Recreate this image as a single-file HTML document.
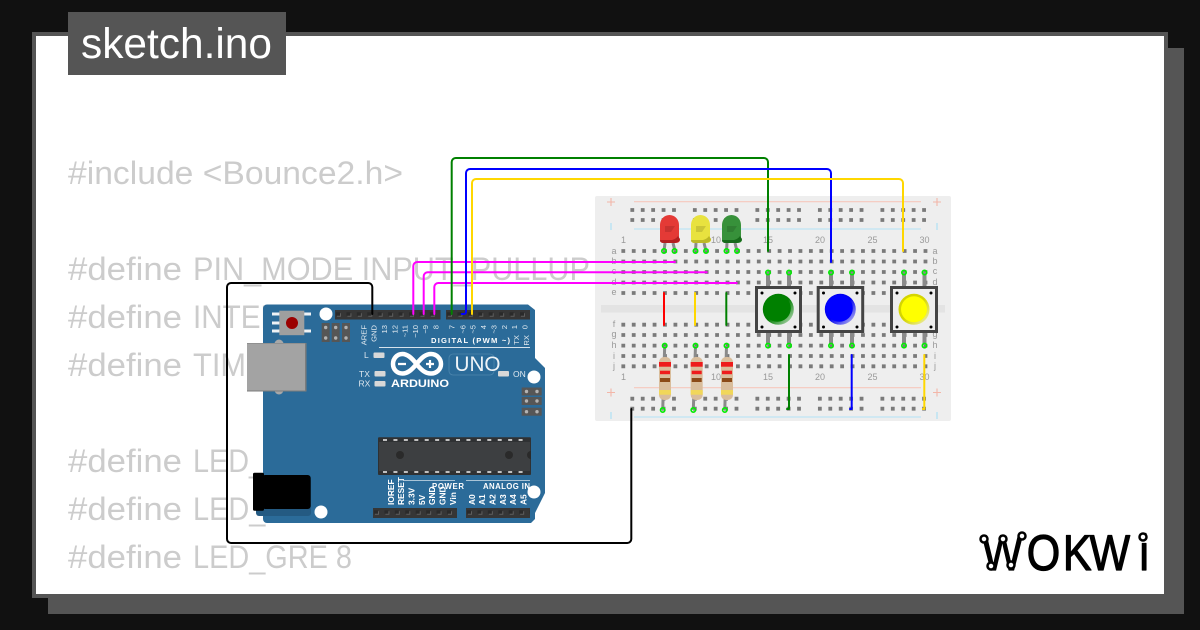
<!DOCTYPE html>
<html>
<head>
<meta charset="utf-8">
<style>
html,body{margin:0;padding:0;width:1200px;height:630px;overflow:hidden;background:#111}
svg{display:block}
text{font-family:"Liberation Sans",sans-serif}
.code{font-size:32px;fill:#ccc}
.h{stroke:#7a7a7a;stroke-width:3.8;stroke-dasharray:3.8 6.62}
.r{stroke:#7a7a7a;stroke-width:3.8;stroke-dasharray:3.8 6.62 3.8 6.62 3.8 6.62 3.8 6.62 3.8 17.04}
.num{font-size:9px;fill:#999;text-anchor:middle}
.let{font-size:9px;fill:#999;text-anchor:middle}
.t{font-size:7.6px;fill:#dfe8ef;text-anchor:end}
.b{font-size:8.4px;fill:#fff;font-weight:bold;text-anchor:start}
.w{fill:none;stroke-width:2;stroke-linecap:round;stroke-linejoin:round}
.leg{stroke:#8a8a8a;stroke-width:3}
.pin{fill:none;stroke:#00ee00;stroke-width:1.6}
</style>
</head>
<body>
<svg width="1200" height="630" viewBox="0 0 1200 630" xmlns="http://www.w3.org/2000/svg">
<rect width="1200" height="630" fill="#111"/>
<rect x="48" y="48" width="1136" height="566" fill="#555"/>
<rect x="32" y="32" width="1136" height="566" fill="#555"/>
<rect x="36" y="36" width="1128" height="558" fill="#fff"/>
<rect x="68" y="12" width="218" height="63" fill="#555"/>
<text x="81" y="58" font-size="43" fill="#fff" textLength="191" lengthAdjust="spacingAndGlyphs">sketch.ino</text>

<text class="code" x="68" y="184" textLength="335" lengthAdjust="spacingAndGlyphs">#include &lt;Bounce2.h&gt;</text>
<text class="code" x="68" y="280" textLength="114" lengthAdjust="spacingAndGlyphs">#define</text>
<text class="code" x="193" y="280" textLength="397" lengthAdjust="spacingAndGlyphs">PIN_MODE INPUT_PULLUP</text>
<text class="code" x="68" y="328" textLength="114" lengthAdjust="spacingAndGlyphs">#define</text>
<text class="code" x="193" y="328" textLength="294" lengthAdjust="spacingAndGlyphs">INTERVAL_MILLIS 25</text>
<text class="code" x="68" y="376" textLength="114" lengthAdjust="spacingAndGlyphs">#define</text>
<text class="code" x="193" y="376" textLength="198" lengthAdjust="spacingAndGlyphs">TIMEOUT 500</text>
<text class="code" x="68" y="472" textLength="114" lengthAdjust="spacingAndGlyphs">#define</text>
<text class="code" x="193" y="472" textLength="173" lengthAdjust="spacingAndGlyphs">LED_RED 10</text>
<text class="code" x="68" y="520" textLength="114" lengthAdjust="spacingAndGlyphs">#define</text>
<text class="code" x="193" y="520" textLength="150" lengthAdjust="spacingAndGlyphs">LED_YEL 9</text>
<text class="code" x="68" y="568" textLength="114" lengthAdjust="spacingAndGlyphs">#define</text>
<text class="code" x="193" y="568" textLength="159" lengthAdjust="spacingAndGlyphs">LED_GRE 8</text>

<!-- breadboard -->
<rect x="595" y="196" width="356" height="225" rx="2" fill="#eee"/>
<rect x="601" y="305" width="344" height="7.5" fill="#e3e3e3"/>
<g stroke-width="1.2">
<line x1="634" y1="201.7" x2="921" y2="201.7" stroke="#f6c8bd"/>
<line x1="634" y1="229" x2="921" y2="229" stroke="#bfe4f4"/>
<line x1="634" y1="387.7" x2="921" y2="387.7" stroke="#f6c8bd"/>
<line x1="634" y1="417" x2="921" y2="417" stroke="#bfe4f4"/>
</g>
<g stroke="#f3b6a8" stroke-width="1.1">
<path d="M607 202h8M611 198v8M933 202h8M937 198v8M607 392.500h8M611 388.500v8M933 392.500h8M937 388.500v8"/>
</g>
<g stroke="#bfe4f4" stroke-width="1.6">
<path d="M611 223v7M937 223v7M611 412v7M937 412v7"/>
</g>
<g>
<line class="r" x1="630.4" x2="926" y1="210" y2="210"/>
<line class="r" x1="630.4" x2="926" y1="220" y2="220"/>
<line class="r" x1="630.4" x2="926" y1="398.7" y2="398.7"/>
<line class="r" x1="630.4" x2="926" y1="408.7" y2="408.7"/>
<line class="h" x1="621.4" x2="927.5" y1="251" y2="251"/>
<line class="h" x1="621.4" x2="927.5" y1="261.500" y2="261.500"/>
<line class="h" x1="621.4" x2="927.5" y1="272" y2="272"/>
<line class="h" x1="621.4" x2="927.5" y1="282.500" y2="282.500"/>
<line class="h" x1="621.4" x2="927.5" y1="293" y2="293"/>
<line class="h" x1="621.4" x2="927.5" y1="324.700" y2="324.700"/>
<line class="h" x1="621.4" x2="927.5" y1="335" y2="335"/>
<line class="h" x1="621.4" x2="927.5" y1="345.600" y2="345.600"/>
<line class="h" x1="621.4" x2="927.5" y1="356" y2="356"/>
<line class="h" x1="621.4" x2="927.5" y1="366.300" y2="366.300"/>
</g>
<g>
<text class="num" x="623.500" y="243">1</text><text class="num" x="665" y="243">5</text><text class="num" x="716" y="243">10</text><text class="num" x="768" y="243">15</text><text class="num" x="820" y="243">20</text><text class="num" x="872.500" y="243">25</text><text class="num" x="924.500" y="243">30</text>
<text class="num" x="623.500" y="380">1</text><text class="num" x="665" y="380">5</text><text class="num" x="716" y="380">10</text><text class="num" x="768" y="380">15</text><text class="num" x="820" y="380">20</text><text class="num" x="872.500" y="380">25</text><text class="num" x="924.500" y="380">30</text>
<text class="let" x="614" y="254">a</text><text class="let" x="614" y="264">b</text><text class="let" x="614" y="274">c</text><text class="let" x="614" y="285">d</text><text class="let" x="614" y="295">e</text>
<text class="let" x="614" y="327">f</text><text class="let" x="614" y="337">g</text><text class="let" x="614" y="348">h</text><text class="let" x="614" y="359">i</text><text class="let" x="614" y="369">j</text>
<text class="let" x="935" y="254">a</text><text class="let" x="935" y="264">b</text><text class="let" x="935" y="274">c</text><text class="let" x="935" y="285">d</text><text class="let" x="935" y="295">e</text>
<text class="let" x="935" y="327">f</text><text class="let" x="935" y="337">g</text><text class="let" x="935" y="348">h</text><text class="let" x="935" y="359">i</text><text class="let" x="935" y="369">j</text>
</g>

<!-- LEDs -->
<g>
<path class="leg" d="M665 243L664 251M673 243L675 251M696 243L695.500 251M704 243L706 251M727 243L726.500 251M735 243L737 251" fill="none"/>
<path d="M660 241V225a9.500 10 0 0 1 19 0V238l1 2a4 3 0 0 1-4 3H664a4 3 0 0 1-4-2z" fill="#e43a36"/>
<path d="M691 241V225a9.500 10 0 0 1 19 0V238l1 2a4 3 0 0 1-4 3H695a4 3 0 0 1-4-2z" fill="#e8e23f"/>
<path d="M722 241V225a9.500 10 0 0 1 19 0V238l1 2a4 3 0 0 1-4 3H726a4 3 0 0 1-4-2z" fill="#37913a"/>
<path d="M664 243H675q5-1 5-4l-2-3q-2 3-6 4H660q0 3 4 3z" fill="#b32020"/>
<path d="M695 243H706q5-1 5-4l-2-3q-2 3-6 4H691q0 3 4 3z" fill="#bdb826"/>
<path d="M726 243H737q5-1 5-4l-2-3q-2 3-6 4H722q0 3 4 3z" fill="#176a1b"/>
<path d="M665 226h10l-4 6h-6z" fill="#000" opacity=".12"/>
<path d="M696 226h10l-4 6h-6z" fill="#000" opacity=".12"/>
<path d="M727 226h10l-4 6h-6z" fill="#000" opacity=".12"/>
<circle class="pin" cx="664" cy="251" r="2.200"/><circle class="pin" cx="674.500" cy="251" r="2.200"/>
<circle class="pin" cx="695.500" cy="251" r="2.200"/><circle class="pin" cx="706" cy="251" r="2.200"/>
<circle class="pin" cx="726.500" cy="251" r="2.200"/><circle class="pin" cx="737" cy="251" r="2.200"/>
</g>

<!-- Resistors -->
<g>
<path class="leg" d="M664.700 346L662.700 410M695.500 346L693.300 410M726.500 346L724.800 410" fill="none"/>
<rect x="659" y="357" width="12" height="43" rx="5" fill="#d9bd9c"/>
<rect x="690.700" y="357" width="12" height="43" rx="5" fill="#d9bd9c"/>
<rect x="721" y="357" width="12" height="43" rx="5" fill="#d9bd9c"/>
<g fill="#ee1c1c">
<rect x="659" y="362" width="12" height="4.700"/><rect x="660" y="370.700" width="10" height="3.500"/>
<rect x="690.700" y="362" width="12" height="4.700"/><rect x="691.700" y="370.700" width="10" height="3.500"/>
<rect x="721" y="362" width="12" height="4.700"/><rect x="722" y="370.700" width="10" height="3.500"/>
</g>
<g fill="#8b4a18">
<rect x="660" y="378" width="10" height="4"/><rect x="691.700" y="378" width="10" height="4"/><rect x="722" y="378" width="10" height="4"/>
</g>
<g fill="#f1d75a">
<rect x="659" y="390" width="12" height="4.700"/><rect x="690.700" y="390" width="12" height="4.700"/><rect x="721" y="390" width="12" height="4.700"/>
</g>
<circle class="pin" cx="664.700" cy="345.600" r="2.200"/><circle class="pin" cx="695.500" cy="345.600" r="2.200"/><circle class="pin" cx="726.500" cy="345.600" r="2.200"/>
<circle class="pin" cx="662.700" cy="410" r="2.200"/><circle class="pin" cx="693.300" cy="410" r="2.200"/><circle class="pin" cx="724.800" cy="410" r="2.200"/>
</g>

<!-- Buttons -->
<defs>
<linearGradient id="gk" x1="0" y1="0" x2="1" y2="1"><stop offset=".5" stop-color="#007d00"/><stop offset="1" stop-color="#cfe6cf"/></linearGradient>
<linearGradient id="bk" x1="0" y1="0" x2="1" y2="1"><stop offset=".5" stop-color="#0000f0"/><stop offset="1" stop-color="#cfcff0"/></linearGradient>
<linearGradient id="yk" x1="0" y1="0" x2="1" y2="1"><stop offset=".5" stop-color="#d5d500"/><stop offset="1" stop-color="#f0f0c0"/></linearGradient>
</defs>
<g>
<path d="M768 272V287M789 272V287M768 332V345M789 332V345M831 272V287M852 272V287M831 332V345M852 332V345M904 272V287M924.500 272V287M904 332V345M924.500 332V345" stroke="#8a8a8a" stroke-width="4"/>
<rect x="756.500" y="287.500" width="44" height="44" fill="#eee" stroke="#444" stroke-width="3"/>
<rect x="818.200" y="287.500" width="44.500" height="44" fill="#eee" stroke="#444" stroke-width="3"/>
<rect x="891.500" y="287.500" width="45" height="44" fill="#eee" stroke="#444" stroke-width="3"/>
<g fill="#000">
<circle cx="762" cy="293" r="1.500"/><circle cx="795" cy="293" r="1.500"/><circle cx="762" cy="327" r="1.500"/><circle cx="795" cy="327" r="1.500"/>
<circle cx="823.500" cy="293" r="1.500"/><circle cx="857" cy="293" r="1.500"/><circle cx="823.500" cy="327" r="1.500"/><circle cx="857" cy="327" r="1.500"/>
<circle cx="897" cy="293" r="1.500"/><circle cx="931" cy="293" r="1.500"/><circle cx="897" cy="327" r="1.500"/><circle cx="931" cy="327" r="1.500"/>
</g>
<circle cx="778.300" cy="309.300" r="15.500" fill="url(#gk)"/><circle cx="777.300" cy="308.300" r="13.500" fill="#008000"/>
<circle cx="840.300" cy="309.300" r="15.500" fill="url(#bk)"/><circle cx="839.300" cy="308.300" r="13.500" fill="#0000ff"/>
<circle cx="914" cy="309.300" r="15.500" fill="url(#yk)"/><circle cx="914" cy="309.300" r="13" fill="#ffff00"/>
<circle class="pin" cx="768" cy="272.500" r="2.200"/><circle class="pin" cx="789" cy="272.500" r="2.200"/><circle class="pin" cx="768" cy="345.600" r="2.200"/><circle class="pin" cx="789" cy="345.600" r="2.200"/>
<circle class="pin" cx="831" cy="272.500" r="2.200"/><circle class="pin" cx="852" cy="272.500" r="2.200"/><circle class="pin" cx="831" cy="345.600" r="2.200"/><circle class="pin" cx="852" cy="345.600" r="2.200"/>
<circle class="pin" cx="904" cy="272.500" r="2.200"/><circle class="pin" cx="924.500" cy="272.500" r="2.200"/><circle class="pin" cx="904" cy="345.600" r="2.200"/><circle class="pin" cx="924.500" cy="345.600" r="2.200"/>
</g>

<!-- Arduino -->
<path d="M267 304.500H528L535 310V358L545 368V493L535 513V519L531 523H267a4 4 0 0 1-4-4V308.500a4 4 0 0 1 4-4z" fill="#2b6b99"/>
<circle cx="326" cy="314" r="6.500" fill="#fff"/>
<circle cx="534" cy="377" r="6.500" fill="#fff"/>
<circle cx="534" cy="492" r="6.500" fill="#fff"/>
<circle cx="321" cy="512" r="6.500" fill="#fff"/>
<!-- reset -->
<g fill="#eef2f5">
<rect x="272" y="312.500" width="8" height="3"/><rect x="272" y="321.500" width="8" height="3"/><rect x="272" y="329.500" width="8" height="3"/>
<rect x="303" y="312.500" width="8" height="3"/><rect x="303" y="329.500" width="8" height="3"/>
</g>
<rect x="279.300" y="310.700" width="25" height="24.500" fill="#9f9f9f"/>
<circle cx="292" cy="323" r="6" fill="#9b0000"/>
<!-- USB -->
<circle cx="279" cy="344" r="4.500" fill="#a8a8a8"/><circle cx="279" cy="390" r="4.500" fill="#a8a8a8"/>
<rect x="247" y="343" width="59.500" height="48.500" fill="#7c7c7c"/>
<rect x="247" y="343.500" width="58" height="47" fill="#a3a3a3"/>
<!-- ICSP -->
<g>
<rect x="321.700" y="323" width="8" height="19" fill="#565656"/><rect x="331.700" y="323" width="8" height="19" fill="#565656"/><rect x="342" y="323" width="8" height="19" fill="#565656"/>
<rect x="521.700" y="387.500" width="20" height="8" fill="#565656"/><rect x="521.700" y="397" width="20" height="8" fill="#565656"/><rect x="521.700" y="407.700" width="20" height="8" fill="#565656"/>
<g fill="#b3b3b3">
<circle cx="325.700" cy="327.500" r="1.700"/><circle cx="325.700" cy="338" r="1.700"/><circle cx="335.700" cy="327.500" r="1.700"/><circle cx="335.700" cy="338" r="1.700"/><circle cx="346" cy="327.500" r="1.700"/><circle cx="346" cy="338" r="1.700"/>
<circle cx="526.500" cy="391.500" r="1.700"/><circle cx="537" cy="391.500" r="1.700"/><circle cx="526.500" cy="401" r="1.700"/><circle cx="537" cy="401" r="1.700"/><circle cx="526.500" cy="411.700" r="1.700"/><circle cx="537" cy="411.700" r="1.700"/>
</g>
</g>
<!-- headers -->
<g>
<rect x="335" y="310" width="105.500" height="9.500" fill="#363636"/>
<rect x="446" y="310" width="84" height="9.500" fill="#363636"/>
<rect x="373" y="508" width="84" height="10" fill="#363636"/>
<rect x="466" y="508" width="64" height="10" fill="#363636"/>
<g stroke="#5e5e5e" stroke-width="3.500" stroke-dasharray="4 6.430">
<line x1="337" x2="440" y1="315" y2="315"/>
<line x1="448" x2="530" y1="315" y2="315"/>
<line x1="375" x2="457" y1="513" y2="513"/>
<line x1="468" x2="530" y1="513" y2="513"/>
</g>
<g stroke="#2a2a2a" stroke-width="3.500" stroke-dasharray="4 6.430">
<line x1="336" x2="440" y1="314" y2="314"/>
<line x1="447" x2="530" y1="314" y2="314"/>
<line x1="374" x2="457" y1="512" y2="512"/>
<line x1="467" x2="530" y1="512" y2="512"/>
</g>
</g>
<!-- top pin labels -->
<g>
<text class="t" transform="translate(366.500,325) rotate(-90)">AREF</text>
<text class="t" transform="translate(376.500,325) rotate(-90)">GND</text>
<text class="t" transform="translate(387,325) rotate(-90)">13</text>
<text class="t" transform="translate(397.500,325) rotate(-90)">12</text>
<text class="t" transform="translate(407.500,325) rotate(-90)">~11</text>
<text class="t" transform="translate(418,325) rotate(-90)">~10</text>
<text class="t" transform="translate(428,325) rotate(-90)">~9</text>
<text class="t" transform="translate(438.500,325) rotate(-90)">8</text>
<text class="t" transform="translate(454.500,325) rotate(-90)">7</text>
<text class="t" transform="translate(465.500,325) rotate(-90)">~6</text>
<text class="t" transform="translate(475.500,325) rotate(-90)">~5</text>
<text class="t" transform="translate(486,325) rotate(-90)">4</text>
<text class="t" transform="translate(496.500,325) rotate(-90)">~3</text>
<text class="t" transform="translate(507,325) rotate(-90)">2</text>
<text class="t" transform="translate(517,325) rotate(-90)">1</text>
<text class="t" transform="translate(527.500,325) rotate(-90)">0</text>
</g>
<text x="431" y="343" font-size="7.600" font-weight="bold" fill="#fff" textLength="79">DIGITAL (PWM ~)</text>
<text class="t" transform="translate(519,335) rotate(-90)">TX</text>
<text class="t" transform="translate(529,335) rotate(-90)">RX</text>
<line x1="379" x2="530" y1="347.500" y2="347.500" stroke="#d5e2ec" stroke-width=".9"/>
<!-- LEDs on board -->
<g fill="#d8d8d8">
<rect x="373.500" y="352.500" width="11" height="5.500" rx="1"/>
<rect x="374.500" y="371" width="11" height="5.500" rx="1"/>
<rect x="374.500" y="381" width="11" height="5.500" rx="1"/>
<rect x="498" y="371" width="11" height="5.500" rx="1"/>
</g>
<g font-size="8.500" fill="#dfe8ef">
<text x="364" y="358">L</text>
<text x="359" y="377">TX</text>
<text x="358.500" y="386.500">RX</text>
<text x="513" y="377">ON</text>
</g>
<!-- logo -->
<path d="M416.500 364C411 357 407 354 402.500 354C397 354 393 358.500 393 364C393 369.500 397 373.500 402.500 373.500C407 373.500 411 371 416.500 364C422 357 426 354 431 354C436.500 354 441 358.500 441 364C441 369.500 436.500 373.500 431 373.500C426 373.500 422 371 416.500 364Z" fill="none" stroke="#fff" stroke-width="4.500"/>
<path d="M398 364h8M426 364h8M430 360v8" stroke="#fff" stroke-width="2.200"/>
<text x="391" y="387" font-size="11" font-weight="bold" fill="#fff" textLength="58" lengthAdjust="spacingAndGlyphs">ARDUINO</text>
<rect x="449" y="354" width="45" height="21" rx="4" fill="none" stroke="#4d86ad" stroke-width=".8"/>
<text x="454.500" y="371" font-size="21" fill="#eef4f8" textLength="46" lengthAdjust="spacingAndGlyphs">UNO</text>
<!-- chip -->
<rect x="378" y="437.300" width="153" height="37.700" rx="1" fill="#2f3133"/>
<rect x="379" y="442" width="151" height="29" fill="#3d3f41"/>
<g stroke="#f0f0f0" stroke-width="1.600" stroke-dasharray="4 6.430">
<line x1="383" x2="528" y1="440" y2="440"/>
<line x1="383" x2="528" y1="472" y2="472"/>
</g>
<circle cx="400" cy="455" r="4" fill="#2a2a2a"/><circle cx="509" cy="455" r="4" fill="#2a2a2a"/><path d="M531 451a4 4 0 0 0 0 8z" fill="#2a2a2a"/>
<!-- bottom labels -->
<g>
<text class="b" transform="translate(394,505) rotate(-90)">IOREF</text>
<text class="b" transform="translate(404,505) rotate(-90)">RESET</text>
<text class="b" transform="translate(414.500,505) rotate(-90)">3.3V</text>
<text class="b" transform="translate(425,505) rotate(-90)">5V</text>
<text class="b" transform="translate(435,505) rotate(-90)">GND</text>
<text class="b" transform="translate(445.500,505) rotate(-90)">GND</text>
<text class="b" transform="translate(456,505) rotate(-90)">Vin</text>
<text class="b" transform="translate(475,505) rotate(-90)">A0</text>
<text class="b" transform="translate(485,505) rotate(-90)">A1</text>
<text class="b" transform="translate(495.500,505) rotate(-90)">A2</text>
<text class="b" transform="translate(506,505) rotate(-90)">A3</text>
<text class="b" transform="translate(516,505) rotate(-90)">A4</text>
<text class="b" transform="translate(526.500,505) rotate(-90)">A5</text>
</g>
<text x="432" y="489" font-size="7.800" font-weight="bold" fill="#fff" textLength="32">POWER</text>
<text x="483" y="489" font-size="7.800" font-weight="bold" fill="#fff" textLength="47">ANALOG IN</text>
<line x1="403" x2="455" y1="480.500" y2="480.500" stroke="#d5e2ec" stroke-width=".8"/>
<line x1="466" x2="530" y1="480.500" y2="480.500" stroke="#d5e2ec" stroke-width=".8"/>
<!-- barrel jack -->
<rect x="256" y="478" width="55" height="38" rx="3" fill="#245a82"/>
<rect x="253" y="472.700" width="11" height="38" rx="1.500" fill="#000"/>
<rect x="262" y="475" width="48.700" height="34" rx="3" fill="#000"/>

<!-- wires -->
<g>
<path class="w" d="M372.300 314V287a4 4 0 0 0-4-4H231a4 4 0 0 0-4 4V539a4 4 0 0 0 4 4H627.300a4 4 0 0 0 4-4V409" stroke="#000"/>
<path class="w" d="M413.300 314V266a4 4 0 0 1 4-4H675" stroke="#ff00ff"/>
<path class="w" d="M423.700 314V276.300a4 4 0 0 1 4-4H706.700" stroke="#ff00ff"/>
<path class="w" d="M434.300 314V287a4 4 0 0 1 4-4H736.700" stroke="#ff00ff"/>
<path class="w" d="M451.700 314V162a4 4 0 0 1 4-4H764a4 4 0 0 1 4 4V251" stroke="#008000"/>
<path class="w" d="M461.700 314H464a2 2 0 0 0 2-2V173a4 4 0 0 1 4-4H827a4 4 0 0 1 4 4V262" stroke="#0000ff"/>
<path class="w" d="M472 314V183a4 4 0 0 1 4-4H899a4 4 0 0 1 4 4V251" stroke="#ffd700"/>
<path class="w" d="M664 293V325" stroke="#ff0000"/>
<path class="w" d="M695 293V325" stroke="#ffd700"/>
<path class="w" d="M726.300 293V325" stroke="#008000"/>
<path class="w" d="M789 355V409H787" stroke="#008000"/>
<path class="w" d="M851.700 355V409H850" stroke="#0000ff"/>
<path class="w" d="M924.300 355V409H923" stroke="#ffd700"/>
</g>

<!-- wokwi logo -->
<text transform="translate(982,570) scale(.86,1)" x="0 52 94 125 183" y="0" font-size="50" fill="#000" stroke="#000" stroke-width="1.200" stroke-linejoin="round">WOKWi</text>
<g fill="#fff" stroke="#000" stroke-width="2.500">
<circle cx="984" cy="539" r="3.500"/><circle cx="1003" cy="539" r="3.500"/><circle cx="1022" cy="536" r="3.500"/><circle cx="991" cy="566" r="3.500"/><circle cx="1011" cy="565" r="3.500"/><circle cx="1143" cy="537" r="3.500"/>
</g>
</svg>
</body>
</html>
